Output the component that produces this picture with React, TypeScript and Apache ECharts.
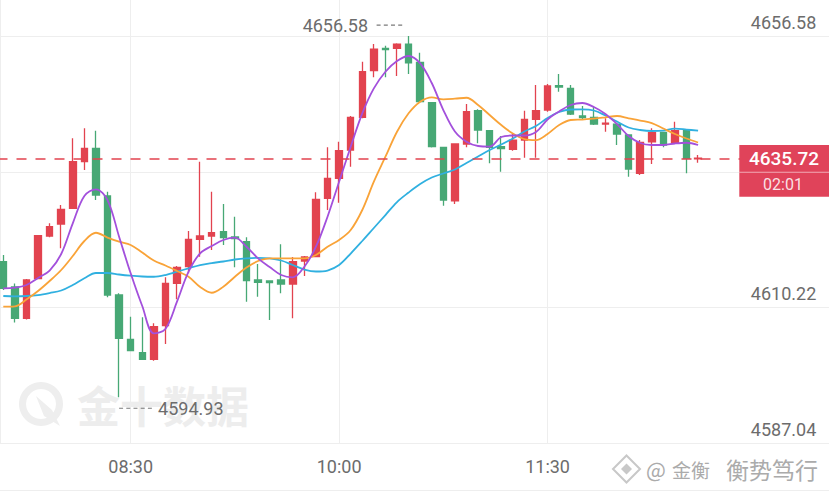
import React, { useEffect, useRef } from 'react';
import * as echarts from 'echarts';

const categories = ['07:35','07:40','07:45','07:50','07:55','08:00','08:05','08:10','08:15','08:20','08:25','08:30','08:35','08:40','08:45','08:50','08:55','09:00','09:05','09:10','09:15','09:20','09:25','09:30','09:35','09:40','09:45','09:50','09:55','10:00','10:05','10:10','10:15','10:20','10:25','10:30','10:35','10:40','10:45','10:50','10:55','11:00','11:05','11:10','11:15','11:20','11:25','11:30','11:35','11:40','11:45','11:50','11:55','12:00','12:05','12:10','12:15','12:20','12:25','12:30','12:35','12:40','12:45','12:50','12:55','13:00','13:05','13:10','13:15','13:20','13:25','13:30'];

const labeledTimes = ['08:30', '10:00', '11:30'];

const opens = [4618.06,4613.75,4608.41,4615.20,4622.45,4624.50,4627.18,4635.13,4637.42,4629.28,
4612.38,4604.82,4602.54,4601.41,4607.14,4614.38,4617.21,4621.89,4622.45,4623.18,
4622.28,4621.48,4614.94,4614.77,4614.94,4614.26,4618.18,4618.92,4628.88,4632.30,
4637.13,4642.71,4650.66,4654.48,4654.48,4655.21,4652.09,4645.20,4637.59,4628.47,
4638.15,4643.83,4640.42,4637.69,4637.25,4638.83,4642.36,4643.95,4648.13,4647.65,
4642.93,4642.71,4641.56,4641.56,4639.69,4633.15,4638.54,4640.15,4638.27,4640.42,
4635.62];

const closes = [4613.53,4608.41,4614.94,4622.50,4624.04,4627.01,4635.13,4637.42,4629.45,4612.38,
4604.99,4602.88,4601.41,4606.97,4614.38,4617.11,4621.89,4622.45,4623.01,4622.16,
4622.02,4614.82,4614.55,4614.48,4614.26,4618.06,4618.87,4628.71,4632.30,4637.01,
4642.71,4650.49,4654.36,4654.28,4655.21,4652.02,4645.37,4637.69,4628.59,4638.15,
4643.66,4640.54,4637.59,4637.35,4638.83,4642.36,4643.83,4648.05,4647.88,4643.27,
4642.67,4641.56,4641.73,4639.86,4633.88,4638.44,4640.08,4637.98,4640.42,4635.71,
4635.72];

const highs = [4619.21,4614.34,4615.11,4622.62,4624.62,4627.74,4639.12,4640.83,4640.42,4630.01,
4612.67,4608.68,4608.58,4607.55,4615.40,4617.33,4623.30,4635.13,4630.01,4627.91,
4625.74,4622.23,4617.67,4614.77,4621.03,4618.87,4619.04,4629.91,4637.59,4638.54,
4642.93,4652.19,4655.21,4654.92,4655.33,4656.58,4653.73,4645.32,4637.69,4638.27,
4644.98,4644.07,4640.54,4639.51,4639.86,4643.83,4648.22,4648.39,4650.10,4648.22,
4644.63,4644.52,4642.54,4641.68,4639.77,4638.83,4640.83,4640.25,4641.96,4640.54,
4636.27];

const lows = [4613.23,4607.69,4608.20,4615.11,4622.23,4620.35,4627.15,4633.71,4628.59,4611.99,
4594.93,4602.83,4601.29,4601.17,4604.02,4611.65,4616.08,4618.92,4620.06,4620.91,
4617.11,4611.24,4612.09,4608.12,4612.67,4608.41,4615.62,4618.87,4626.89,4628.13,
4634.28,4642.54,4649.53,4649.53,4649.75,4650.10,4645.32,4637.55,4627.62,4627.91,
4637.59,4638.27,4634.86,4633.42,4637.01,4635.81,4635.81,4643.66,4647.07,4643.10,
4642.36,4641.39,4640.25,4637.98,4632.57,4632.86,4634.74,4637.59,4638.15,4633.15,
4634.96];

const maFast = [4613.53,4613.63,4614.09,4615.28,4616.56,4619.38,4624.62,4629.28,4630.42,4628.59,
4622.33,4616.08,4610.50,4605.85,4606.58,4611.24,4616.36,4619.50,4620.74,4621.77,
4622.16,4620.62,4618.64,4617.16,4615.79,4615.40,4617.21,4620.62,4625.74,4631.72,
4637.69,4643.39,4647.65,4650.49,4652.31,4653.17,4651.92,4648.56,4643.95,4640.28,
4638.54,4637.81,4637.72,4639.34,4639.60,4639.60,4640.20,4642.33,4643.70,4644.81,
4645.15,4644.46,4643.27,4641.56,4639.51,4638.32,4637.98,4637.98,4638.24,4638.37,
4637.98];

const maMid = [4610.39,4610.45,4611.61,4613.06,4614.77,4616.65,4619.04,4621.60,4623.01,4622.19,
4621.48,4620.91,4619.63,4618.27,4617.42,4616.48,4615.50,4613.75,4612.77,4613.80,
4615.50,4617.07,4618.18,4618.64,4618.64,4618.64,4618.64,4619.21,4620.62,4621.77,
4623.47,4626.89,4631.72,4635.98,4640.25,4643.39,4645.37,4646.12,4645.78,4645.88,
4646.05,4644.81,4643.10,4641.39,4639.94,4639.00,4638.83,4639.86,4641.39,4642.25,
4642.33,4642.50,4642.71,4642.93,4642.54,4642.16,4641.73,4640.79,4639.86,4639.09,
4638.41];

const maSlow = [4612.21,4612.16,4612.21,4612.38,4612.72,4613.15,4614.09,4615.23,4616.14,4616.14,
4615.88,4615.68,4615.54,4615.50,4615.79,4616.36,4616.94,4617.50,4617.84,4618.10,
4618.44,4618.64,4618.73,4618.64,4618.27,4617.50,4616.73,4616.39,4616.56,4617.50,
4619.46,4621.60,4623.82,4626.03,4628.25,4629.87,4631.32,4632.43,4633.12,4633.80,
4634.91,4636.02,4637.13,4638.06,4639.09,4640.28,4641.22,4642.59,4643.61,4644.04,
4644.07,4643.87,4643.01,4641.99,4640.97,4640.54,4640.37,4640.45,4640.79,4640.62,
4640.42];

const Y_MIN = 4587.04;
const Y_STEP = 23.18;
const Y_MAX = 4679.76;
const lastPrice = 4635.72;
const countdown = '02:01';
const highIndex = 35;
const highValue = 4656.58;
const lowIndex = 10;
const lowValue = 4594.93;

const RED = '#E2434F';
const GREEN = '#47A875';
const BADGE = '#E0435A';
const TEXT_GRAY = '#6c6c6c';
const GRID_GRAY = '#eeeeee';
const NUM_FONT = 'Roboto, "Noto Sans", sans-serif';
const CJK_FONT = '"Noto Sans CJK SC", "Noto Sans", sans-serif';

export default function App() {
  const ref = useRef<HTMLDivElement>(null);

  useEffect(() => {
    if (!ref.current) return;
    const chart = echarts.init(ref.current, null, { renderer: 'svg' });
    const candleData = opens.map((o, i) => [o, closes[i], lows[i], highs[i]]);
    const showAt = (_idx: number, val: string) => labeledTimes.indexOf(val) >= 0;

    chart.setOption({
      animation: false,
      backgroundColor: '#ffffff',
      grid: {
        left: -2.5,
        right: -2.26,
        top: -99.8,
        bottom: 51.5,
        containLabel: false,
        outerBoundsMode: 'none',
      },
      xAxis: {
        type: 'category',
        data: categories,
        boundaryGap: true,
        axisLine: { show: false },
        axisTick: { show: false },
        axisLabel: {
          interval: showAt,
          color: TEXT_GRAY,
          fontSize: 18,
          fontFamily: NUM_FONT,
          margin: 14,
        },
        splitLine: {
          show: true,
          interval: showAt,
          alignWithLabel: true,
          lineStyle: { color: GRID_GRAY, width: 1 },
        },
      },
      yAxis: {
        type: 'value',
        position: 'right',
        min: Y_MIN,
        max: Y_MAX,
        interval: Y_STEP,
        axisLine: { show: false },
        axisTick: { show: false },
        axisLabel: {
          inside: true,
          showMaxLabel: false,
          align: 'right',
          verticalAlign: 'bottom',
          margin: 15,
          padding: [0, 0, 5, 0],
          color: TEXT_GRAY,
          fontSize: 18,
          fontFamily: NUM_FONT,
          // the tick beside the current-price badge is covered by it, so it carries no text
          formatter: (v: number) =>
            v > highValue + 1 || Math.abs(v - lastPrice) < 6 ? '' : v.toFixed(2),
        },
        splitLine: { show: true, lineStyle: { color: GRID_GRAY, width: 1 } },
      },
      series: [
        {
          type: 'candlestick',
          data: candleData,
          barWidth: 7,
          itemStyle: {
            color: RED,
            color0: GREEN,
            borderColor: RED,
            borderColor0: GREEN,
            borderWidth: 1.3,
          },
          markLine: {
            silent: true,
            symbol: 'none',
            label: { show: false },
            lineStyle: { color: RED, type: [10, 9], width: 1.6 },
            data: [{ yAxis: lastPrice }],
            z: 6,
          },
          z: 3,
        },
        {
          type: 'line',
          data: maSlow,
          smooth: 0.35,
          symbol: 'none',
          lineStyle: { color: '#30B0E0', width: 1.8 },
          z: 4,
        },
        {
          type: 'line',
          data: maMid,
          smooth: 0.35,
          symbol: 'none',
          lineStyle: { color: '#F9A338', width: 1.8 },
          z: 4,
        },
        {
          type: 'line',
          data: maFast,
          smooth: 0.35,
          symbol: 'none',
          lineStyle: { color: '#A350DC', width: 1.8 },
          z: 4,
        },
      ],
    });

    const toPx = (i: number, v: number) =>
      chart.convertToPixel({ seriesIndex: 0 }, [i, v]) as unknown as number[];
    const [hx, hy] = toPx(highIndex, highValue);
    const [lx, ly] = toPx(lowIndex, lowValue);
    const py = toPx(60, lastPrice)[1];

    const txt = (extra: any) => ({
      fontFamily: NUM_FONT,
      verticalAlign: 'middle',
      textVerticalAlign: 'middle',
      ...extra,
      textAlign: extra.align,
    });

    chart.setOption({
      graphic: [
        // watermark logo + text
        {
          type: 'ring',
          z: 1,
          shape: { cx: 41, cy: 404, r: 22, r0: 15 },
          style: { fill: '#eeeeee' },
        },
        {
          type: 'polygon',
          z: 1,
          shape: { points: [[36, 396], [52, 410], [60, 426], [44, 416]] },
          style: { fill: '#eeeeee' },
        },
        {
          type: 'text',
          z: 1,
          style: txt({
            text: '金十数据',
            x: 77,
            y: 404,
            fill: '#ededed',
            fontSize: 43,
            fontWeight: 'bold',
            fontFamily: CJK_FONT,
            align: 'left',
          }),
        },
        // frame lines
        {
          type: 'line',
          z: 1,
          shape: { x1: 0, y1: 490.5, x2: 829, y2: 490.5 },
          style: { stroke: GRID_GRAY, lineWidth: 1 },
        },
        {
          type: 'line',
          z: 1,
          shape: { x1: 0.5, y1: 0, x2: 0.5, y2: 444 },
          style: { stroke: GRID_GRAY, lineWidth: 1 },
        },
        // high annotation
        {
          type: 'line',
          z: 20,
          shape: { x1: hx - 32, y1: hy - 11, x2: hx - 3.5, y2: hy - 11 },
          style: { stroke: '#7a7a7a', lineWidth: 1.2, lineDash: [4, 3.2] },
        },
        {
          type: 'text',
          z: 20,
          style: txt({
            text: highValue.toFixed(2),
            x: hx - 40.5,
            y: hy - 11,
            fill: TEXT_GRAY,
            fontSize: 18,
            align: 'right',
          }),
        },
        // low annotation
        {
          type: 'line',
          z: 20,
          shape: { x1: lx, y1: ly + 11, x2: lx + 36, y2: ly + 11 },
          style: { stroke: '#7a7a7a', lineWidth: 1.2, lineDash: [4, 3.2] },
        },
        {
          type: 'text',
          z: 20,
          style: txt({
            text: lowValue.toFixed(2),
            x: lx + 39,
            y: ly + 11,
            fill: TEXT_GRAY,
            fontSize: 18,
            align: 'left',
          }),
        },
        // price badge
        {
          type: 'rect',
          z: 100,
          shape: { x: 739.3, y: py - 13.2, width: 92, height: 51.7 },
          style: { fill: BADGE },
        },
        {
          type: 'line',
          z: 101,
          shape: { x1: 739.3, y1: py + 14, x2: 829, y2: py + 14 },
          style: { stroke: 'rgba(255,255,255,0.55)', lineWidth: 1 },
        },
        {
          type: 'text',
          z: 102,
          style: txt({
            text: lastPrice.toFixed(2),
            x: 784,
            y: py + 0.5,
            fill: '#ffffff',
            fontSize: 19,
            fontWeight: 500,
            align: 'center',
          }),
        },
        {
          type: 'text',
          z: 102,
          style: txt({
            text: countdown,
            x: 783,
            y: py + 26.5,
            fill: 'rgba(255,255,255,0.85)',
            fontSize: 16,
            align: 'center',
          }),
        },
        // bottom-right signature
        {
          type: 'polygon',
          z: 20,
          shape: { points: [[626.5, 455.5], [640, 469], [626.5, 482.5], [613, 469]] },
          style: { fill: 'none', stroke: '#c8c8c8', lineWidth: 2 },
        },
        {
          type: 'polygon',
          z: 20,
          shape: { points: [[626.5, 463.5], [632, 469], [626.5, 474.5], [621, 469]] },
          style: { fill: '#c8c8c8' },
        },
        {
          type: 'text',
          z: 20,
          style: txt({
            text: '@',
            x: 646,
            y: 469,
            fill: '#ababab',
            fontSize: 21,
            fontFamily: CJK_FONT,
            align: 'left',
          }),
        },
        {
          type: 'text',
          z: 20,
          style: txt({
            text: '金衡',
            x: 672,
            y: 469,
            fill: '#ababab',
            fontSize: 19,
            fontFamily: CJK_FONT,
            align: 'left',
          }),
        },
        {
          type: 'text',
          z: 20,
          style: txt({
            text: '衡势笃行',
            x: 726,
            y: 469,
            fill: '#ababab',
            fontSize: 23,
            fontFamily: CJK_FONT,
            align: 'left',
          }),
        },
      ],
    });

    return () => {
      chart.dispose();
    };
  }, []);

  return (
    <div
      ref={ref}
      style={{ position: 'fixed', left: 0, top: 0, width: '829px', height: '495px', background: '#fff' }}
    />
  );
}
